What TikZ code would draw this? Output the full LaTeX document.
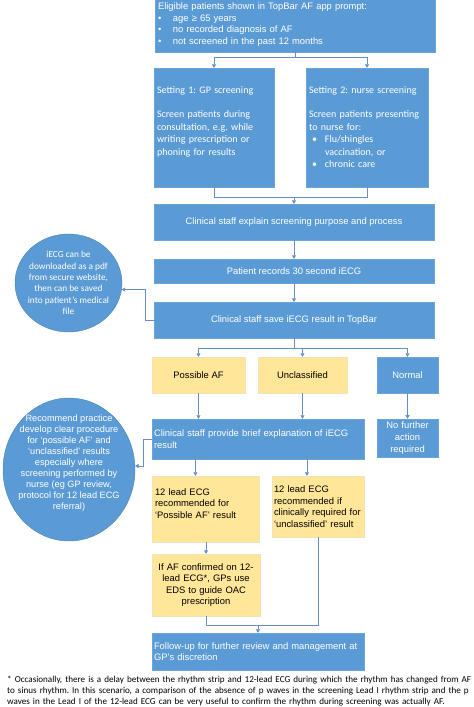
\documentclass[tikz,border=0pt]{standalone}
\usepackage{fontspec}
\setmainfont{Liberation Sans}
\newfontfamily\calibri{Carlito}
\usetikzlibrary{arrows.meta,shapes.geometric}
\frenchspacing

\definecolor{boxblue}{RGB}{91,155,213}
\definecolor{boxgold}{RGB}{255,230,153}
\definecolor{linkblue}{RGB}{104,142,198}

\begin{document}
\begin{tikzpicture}[x=1pt, y=-1pt, every node/.style={inner sep=3pt, font=\fontsize{9.4}{11.7}\selectfont},
        step box/.style={rectangle, fill=boxblue, draw=boxblue!90!white, text=white, line width=0.4pt},
        gold box/.style={rectangle, fill=boxgold, draw=boxgold!90!black!60, text=black, line width=0.4pt},
        note/.style={ellipse, fill=boxblue, draw=boxblue!85!black, inner sep=0pt},
        note text/.style={text=white, align=center, inner sep=0pt},
        link/.style={draw=linkblue, line width=0.6pt},
        flow/.style={link, -{Triangle[length=3.5pt,width=4pt]}}]

        \useasboundingbox (0,0) rectangle (474,707);

        \node[step box, minimum width=280pt, minimum height=55pt, text width=274pt, align=left] (elig) at (295,24.5)
            {Eligible patients shown in TopBar AF app prompt:\\
             \makebox[15pt][l]{\textbullet}age ≥ 65 years\\
             \makebox[15pt][l]{\textbullet}no recorded diagnosis of AF\\
             \makebox[15pt][l]{\textbullet}not screened in the past 12 months};

        \node[step box, minimum width=120pt, minimum height=119pt, text width=114pt, align=left,
              font=\calibri\fontsize{10}{12.4}\selectfont, text height=22pt, text depth=91pt] (set1) at (214,127.5)
            {Setting 1: GP screening\\[12.4pt]
             Screen patients during\\consultation, e.g.\ while\\writing prescription or\\phoning for results};
        \node[step box, minimum width=120pt, minimum height=119pt, text width=116pt, align=left,
              font=\calibri\fontsize{10}{12.4}\selectfont, text height=22pt, text depth=91pt] (set2) at (367,127.5)
            {Setting 2: nurse screening\\[12.4pt]
             Screen patients presenting\\to nurse for:\\
             \hspace*{3pt}\makebox[13pt][l]{\textbullet}Flu/shingles\\
             \hspace*{16pt}vaccination, or\\
             \hspace*{3pt}\makebox[13pt][l]{\textbullet}chronic care};

        \node[step box, minimum width=280pt, minimum height=36pt] (explain) at (294,222)
            {Clinical staff explain screening purpose and process};
        \node[step box, minimum width=280pt, minimum height=24pt] (records) at (294,271)
            {Patient records 30 second iECG};
        \node[step box, minimum width=280pt, minimum height=36pt] (save) at (294,320)
            {Clinical staff save iECG result in TopBar};

        \node[note, minimum width=107pt, minimum height=98pt,
              label={[note text, font=\calibri\fontsize{9.3}{11.4}\selectfont]center:{iECG can be\\downloaded as a pdf\\from secure website,\\then can be saved\\into patient’s medical\\file}}] (pdf) at (68.5,283) {};

        \node[gold box, minimum width=93pt, minimum height=36pt] (posaf) at (198.5,375) {Possible AF};
        \node[gold box, minimum width=89pt, minimum height=36pt] (uncl) at (302.5,375) {Unclassified};
        \node[step box, minimum width=61pt, minimum height=36pt] (normal) at (407.5,375) {Normal};

        \node[step box, minimum width=212pt, minimum height=40pt, text width=208pt, inner xsep=2pt, align=left] (explainres) at (258,439)
            {Clinical staff provide brief explanation of iECG\\result};
        \node[step box, minimum width=61pt, minimum height=38pt, text width=59pt, inner xsep=1pt, align=center] (noaction) at (407.5,438)
            {No further\\action\\required};

        \node[note, minimum width=132pt, minimum height=143pt,
              label={[note text, yshift=6.5pt, font=\fontsize{9.2}{11}\selectfont]center:{Recommend practice\\develop clear procedure\\for ‘possible AF’ and\\‘unclassified’ results\\especially where\\screening performed by\\nurse (eg GP review,\\protocol for 12 lead ECG\\referral)}}] (advice) at (69,469.5) {};

        \node[gold box, minimum width=107pt, minimum height=66pt, text width=101pt, align=left,
              text height=16pt, text depth=44pt] (ecgaf) at (205.5,509)
            {12 lead ECG\\recommended for\\‘Possible AF’ result};
        \node[gold box, minimum width=92pt, minimum height=61pt, text width=88pt, inner xsep=2pt, align=left] (ecguncl) at (318,506.5)
            {12 lead ECG\\recommended if\\clinically required for\\‘unclassified’ result};

        \node[gold box, minimum width=108pt, minimum height=62pt, text width=104pt, inner xsep=2pt, align=center,
              font=\fontsize{9.4}{11.4}\selectfont] (oac) at (206,585)
            {If AF confirmed on 12-\\lead ECG*, GPs use\\EDS to guide OAC\\prescription};

        \node[step box, minimum width=212pt, minimum height=37pt, text width=208pt, inner xsep=2pt, align=left] (follow) at (258,651.5)
            {Follow-up for further review and management at\\GP’s discretion};

        \node[anchor=north west, inner sep=0pt, text width=470pt, align=left, font=\calibri\fontsize{9.1}{11}\selectfont] (foot) at (7,676)
            {* Occasionally, there is a delay between the rhythm strip and 12-lead ECG during which the rhythm has changed from AF\\
             to sinus rhythm. In this scenario, a comparison of the absence of p waves in the screening Lead I rhythm strip and the p\\
             waves in the Lead I of the 12-lead ECG can be very useful to confirm the rhythm during screening was actually AF.};

        % connectors
        \path (elig.south) ++(0,5) coordinate (split1);
        \draw[link] (elig.south) -- (split1);
        \draw[flow] (split1) -| (set1.north);
        \draw[flow] (split1) -| (set2.north);

        \path (explain.north) ++(0,-7) coordinate (join1);
        \draw[link] (set1.south) |- (join1);
        \draw[link] (set2.south) |- (join1);
        \draw[flow] (join1) -- (explain.north);

        \draw[flow] (explain) -- (records);
        \draw[flow] (records) -- (save);
        \draw[flow] (save.west) -- ++(-9,0) |- (pdf.-7);

        \path (save.south) ++(0,10) coordinate (split2);
        \draw[link] (save.south) -- (split2);
        \draw[flow] (split2) -| (posaf.north);
        \draw[flow] (split2) -| (uncl.north);
        \draw[flow] (split2) -| (normal.north);

        \draw[flow] (posaf.south) -- (posaf.south |- explainres.north);
        \draw[flow] (uncl.south) -- (uncl.south |- explainres.north);
        \draw[flow] (normal) -- (noaction);
        \draw[flow] (explainres.west) -- ++(-9,0) |- (advice.3);

        \draw[flow] ([xshift=-10pt]ecgaf.north |- explainres.south) -- ([xshift=-10pt]ecgaf.north);
        \draw[flow] ([xshift=-11pt]ecguncl.north |- explainres.south) -- ([xshift=-11pt]ecguncl.north);
        \draw[flow] (ecgaf.south -| oac.north) -- (oac.north);

        \path (follow.north) ++(0,-8) coordinate (join2);
        \draw[link] (oac.south) |- (join2);
        \draw[link] (ecguncl.south) |- (join2);
        \draw[flow] (join2) -- (follow.north);
\end{tikzpicture}
\end{document}
